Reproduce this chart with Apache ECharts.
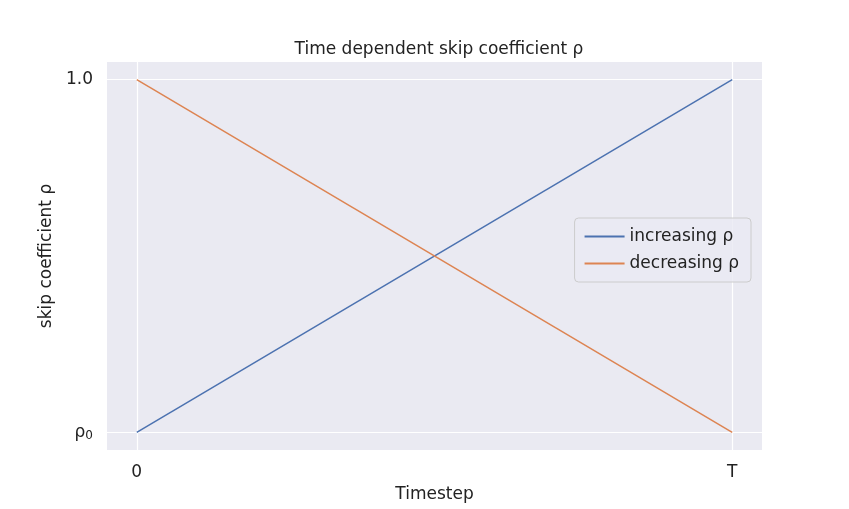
<!DOCTYPE html>
<html>
<head>
  <meta charset="UTF-8">
  <title>Time dependent skip coefficient</title>
  <script src="https://cdn.jsdelivr.net/npm/echarts@6/dist/echarts.min.js"></script>
  <style>
    html, body { margin: 0; padding: 0; background: #fff; }
    #chart { width: 849px; height: 509px; }
  </style>
</head>
<body>
  <div id="chart"></div>
  <script>
// data
const timesteps = [0, 1]
const increasing = [0, 1]
const decreasing = [1, 0]
const tickValues = [0, 1]
const xTickLabels = { 0: '0', 1: 'T' }
const yTickLabels = { 0: '{r|ρ}{sub|0}', 1: '1.0' }

const chart = echarts.init(document.getElementById('chart'))
const font = 'DejaVu Sans'
const gridLine = { silent: true, symbol: 'none', label: { show: false },
  lineStyle: { color: '#fff', type: 'solid', width: 1.2 } }

chart.setOption({
  animation: false,
  textStyle: { fontFamily: font },
  title: {
    text: 'Time dependent skip coefficient ρ',
    left: 434, top: 36, textAlign: 'center',
    textStyle: { fontSize: 17, fontWeight: 'normal', color: '#222', fontFamily: font }
  },
  grid: { left: 107, right: 87, top: 62, bottom: 59, show: true,
    backgroundColor: '#eaeaf2', borderWidth: 0 },
  legend: {
    orient: 'vertical', right: 98, top: 218, itemGap: 10,
    padding: [10, 12, 10, 10],
    backgroundColor: 'rgba(234,234,242,0.8)', borderColor: '#ccc', borderWidth: 1, borderRadius: 4,
    itemWidth: 40, itemHeight: 2, icon: 'rect',
    textStyle: { fontSize: 17, color: '#222', fontFamily: font },
    data: ['increasing ρ', 'decreasing ρ']
  },
  xAxis: {
    type: 'value', min: -0.05, max: 1.05,
    name: 'Timestep', nameLocation: 'middle', nameGap: 32,
    nameTextStyle: { fontSize: 17, color: '#222' },
    axisLine: { show: false }, axisTick: { show: false }, splitLine: { show: false },
    axisLabel: { customValues: tickValues, formatter: v => xTickLabels[v] ?? '',
      fontSize: 17, color: '#222', margin: 14 }
  },
  yAxis: {
    type: 'value', min: -0.05, max: 1.05,
    name: 'skip coefficient ρ', nameLocation: 'middle', nameGap: 52,
    nameTextStyle: { fontSize: 17, color: '#222' },
    axisLine: { show: false }, axisTick: { show: false }, splitLine: { show: false },
    axisLabel: { customValues: tickValues, formatter: v => yTickLabels[v] ?? '',
      fontSize: 17, color: '#222', margin: 14,
      rich: { r: { fontSize: 17, color: '#222' }, sub: { fontSize: 12, color: '#222', verticalAlign: 'bottom', padding: [8, 0, 0, 0] } } }
  },
  series: [
    {
      name: 'increasing ρ', type: 'line', showSymbol: false, z: 3,
      color: '#4c72b0', lineStyle: { width: 1.5 },
      data: timesteps.map((t, i) => [t, increasing[i]]),
      markLine: Object.assign({}, gridLine, { z: 1,
        data: tickValues.map(v => ({ xAxis: v })).concat(tickValues.map(v => ({ yAxis: v }))) })
    },
    {
      name: 'decreasing ρ', type: 'line', showSymbol: false, z: 3,
      color: '#dd8452', lineStyle: { width: 1.5 },
      data: timesteps.map((t, i) => [t, decreasing[i]])
    }
  ]
})
  </script>
</body>
</html>
